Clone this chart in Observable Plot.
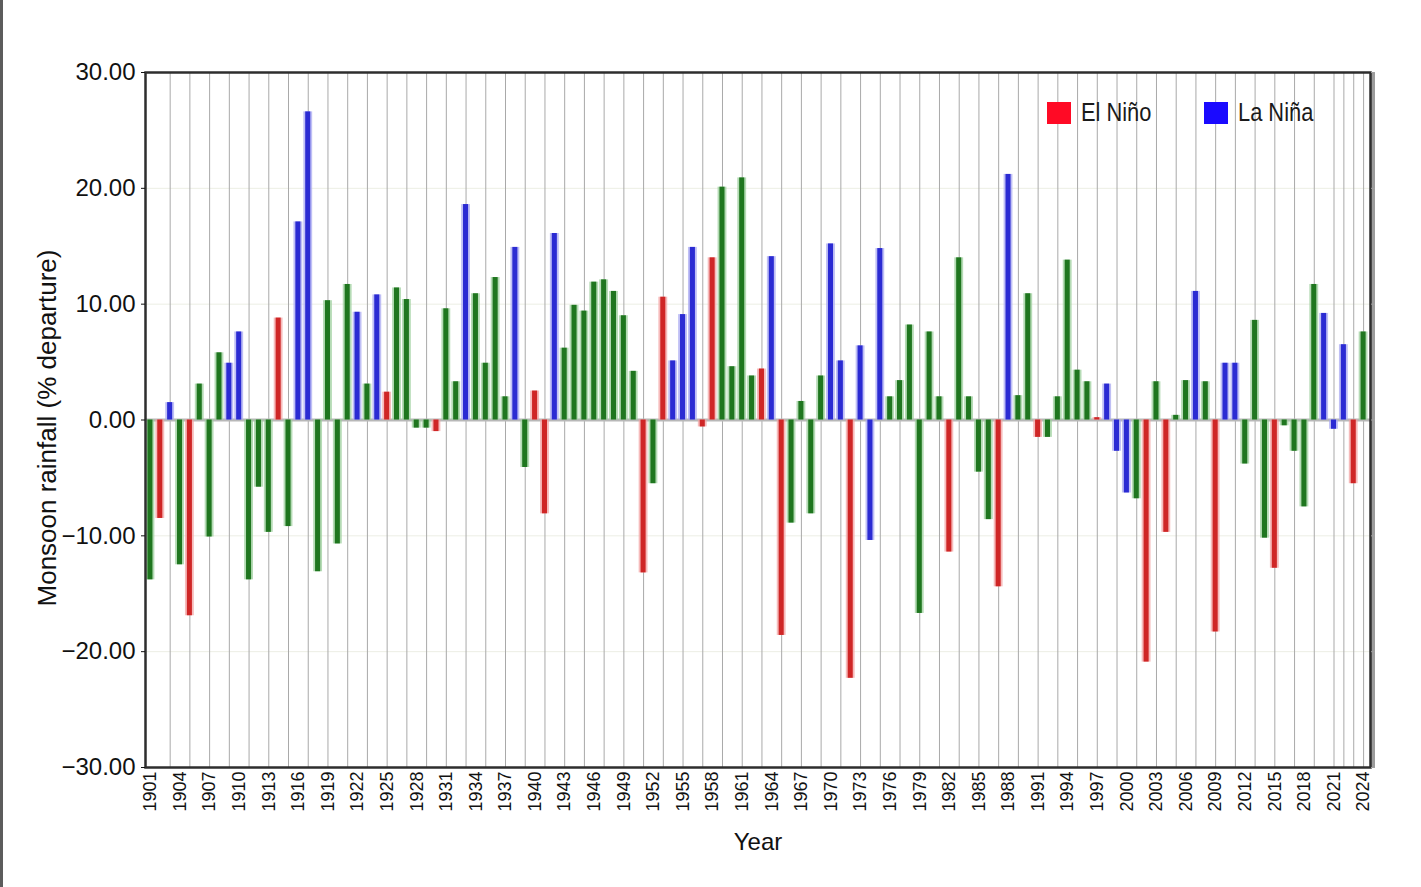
<!DOCTYPE html>
<html>
<head>
<meta charset="utf-8">
<script src="https://cdn.jsdelivr.net/npm/d3@7"></script>
<script src="https://cdn.jsdelivr.net/npm/@observablehq/plot@0.6"></script>
<style>
  body { margin: 0; background: #fff; }
  #wrap { position: relative; width: 1421px; height: 887px; overflow: hidden; }
  .edge { position: absolute; left: 0; top: 0; width: 3px; height: 887px; background: #5c5c5c; }
  .legend { position: absolute; top: 97px; display: flex; align-items: center;
            font-family: "Liberation Sans Narrow", "Arial Narrow", "Liberation Sans", sans-serif;
            font-size: 26px; color: #1a1a1a; white-space: nowrap; }
  .legend .sw { display: inline-block; width: 24px; height: 22px; margin-right: 10px; }
  .legend .lab { display: inline-block; transform: scaleX(0.84); transform-origin: left center; }
  g[aria-label="y-axis label"] text { font-size: 26px; }
  g[aria-label="x-axis label"] text { font-size: 24px; }
</style>
</head>
<body>
<div id="wrap">
  <div class="edge"></div>
  <div class="legend" style="left:1047px"><span class="sw" style="background:#ff0a25"></span><span class="lab">El Niño</span></div>
  <div class="legend" style="left:1204px"><span class="sw" style="background:#1a0aff"></span><span class="lab">La Niña</span></div>
</div>
<script>
// All-India monsoon rainfall departure (%) by year, 1901–2024
const years = d3.range(1901, 2025);

const rainfall = [
  -13.8, -8.5, 1.5, -12.5, -16.9, 3.1, -10.1, 5.8, 4.9, 7.6,      // 1901–1910
  -13.8, -5.8, -9.7, 8.8, -9.2, 17.1, 26.6, -13.1, 10.3, -10.7,   // 1911–1920
  11.7, 9.3, 3.1, 10.8, 2.4, 11.4, 10.4, -0.7, -0.7, -1.0,        // 1921–1930
  9.6, 3.3, 18.6, 10.9, 4.9, 12.3, 2.0, 14.9, -4.1, 2.5,          // 1931–1940
  -8.1, 16.1, 6.2, 9.9, 9.4, 11.9, 12.1, 11.1, 9.0, 4.2,          // 1941–1950
  -13.2, -5.5, 10.6, 5.1, 9.1, 14.9, -0.6, 14.0, 20.1, 4.6,       // 1951–1960
  20.9, 3.8, 4.4, 14.1, -18.6, -8.9, 1.6, -8.1, 3.8, 15.2,        // 1961–1970
  5.1, -22.3, 6.4, -10.4, 14.8, 2.0, 3.4, 8.2, -16.7, 7.6,        // 1971–1980
  2.0, -11.4, 14.0, 2.0, -4.5, -8.6, -14.4, 21.2, 2.1, 10.9,      // 1981–1990
  -1.5, -1.5, 2.0, 13.8, 4.3, 3.3, 0.2, 3.1, -2.7, -6.3,          // 1991–2000
  -6.8, -20.9, 3.3, -9.7, 0.4, 3.4, 11.1, 3.3, -18.3, 4.9,        // 2001–2010
  4.9, -3.8, 8.6, -10.2, -12.8, -0.5, -2.7, -7.5, 11.7, 9.2,      // 2011–2020
  -0.8, 6.5, -5.5, 7.6                                            // 2021–2024
];

// ENSO phase per year: E = El Niño, L = La Niña, N = neutral
const phase = [
  "N","E","L","N","E","N","N","N","L","L",
  "N","N","N","E","N","L","L","N","N","N",
  "N","L","N","L","E","N","N","N","N","E",
  "N","N","L","N","N","N","N","L","N","E",
  "E","L","N","N","N","N","N","N","N","N",
  "E","N","E","L","L","L","E","E","N","N",
  "N","N","E","L","E","N","N","N","N","L",
  "L","E","L","L","L","N","N","N","N","N",
  "N","E","N","N","N","N","E","L","N","N",
  "E","N","N","N","N","N","E","L","L","L",
  "N","E","N","E","N","N","L","N","E","L",
  "L","N","N","N","E","N","N","N","N","L",
  "L","L","E","N"
];

const tickYears = d3.range(1901, 2025, 3);
const gridYears = d3.range(1903, 2024, 2).concat([2022, 2024]);
const yTicks = [-30, -20, -10, 0, 10, 20, 30];

const coreColor = {E: "#cf2626", L: "#2b2bd3", N: "#1f761f"};
const haloColor = {E: "#f3a4a4", L: "#a9a9f1", N: "#9ccf9c"};

const rows = years.map((year, i) => ({year, value: rainfall[i], phase: phase[i]}));

const chart = Plot.plot({
  width: 1421,
  height: 887,
  marginLeft: 145,
  marginRight: 51,
  marginTop: 72,
  marginBottom: 120,
  style: {fontFamily: "'Liberation Sans', Arial, sans-serif", color: "#111", background: "transparent", overflow: "visible"},
  x: {domain: [1900.5, 2024.7]},
  y: {domain: [-30, 30]},
  color: {type: "identity"},
  marks: [
    Plot.ruleY([-20, -10, 10, 20], {stroke: "#eceee4"}),
    Plot.ruleX(gridYears, {stroke: "#a9a9a9", strokeWidth: 1}),
    Plot.ruleY([0], {stroke: "#b8b8b8", strokeWidth: 3}),
    Plot.rectY(rows, {x1: d => d.year - 0.5, x2: d => d.year + 0.5, y: "value",
      fill: d => haloColor[d.phase], fillOpacity: 0.75, insetLeft: 0.5, insetRight: 0.5}),
    Plot.rectY(rows, {x1: d => d.year - 0.5, x2: d => d.year + 0.5, y: "value",
      fill: d => coreColor[d.phase], insetLeft: 2.4, insetRight: 2.4}),
    Plot.ruleX([2024.7], {stroke: "#9c9c9c", strokeWidth: 4, dx: 2.5}),
    Plot.frame({stroke: "#2e2e2e", strokeWidth: 2.5}),
    Plot.axisY({ticks: yTicks, tickFormat: d3.format(".2f"), tickSize: 4, tickPadding: 6,
      fontSize: 24, label: "Monsoon rainfall (% departure)", labelAnchor: "center",
      labelOffset: 108, labelArrow: "none"}),
    Plot.axisY({anchor: "right", ticks: yTicks, tickSize: 4, tickFormat: () => "", label: null, stroke: "#a0a0a0"}),
    Plot.axisX({ticks: tickYears, tickFormat: d => String(d), tickRotate: -90, tickSize: 0,
      tickPadding: 4, fontSize: 18, label: "Year", labelAnchor: "center", labelOffset: 82, labelArrow: "none"})
  ]
});

// nudge the vertical axis title slightly below the plot's centre line
const yLabel = chart.querySelector('g[aria-label="y-axis label"]');
if (yLabel) {
  const t = yLabel.getAttribute("transform") || "";
  yLabel.setAttribute("transform", (t + " translate(0,8)").trim());
}

document.getElementById("wrap").prepend(chart);
</script>
</body>
</html>
